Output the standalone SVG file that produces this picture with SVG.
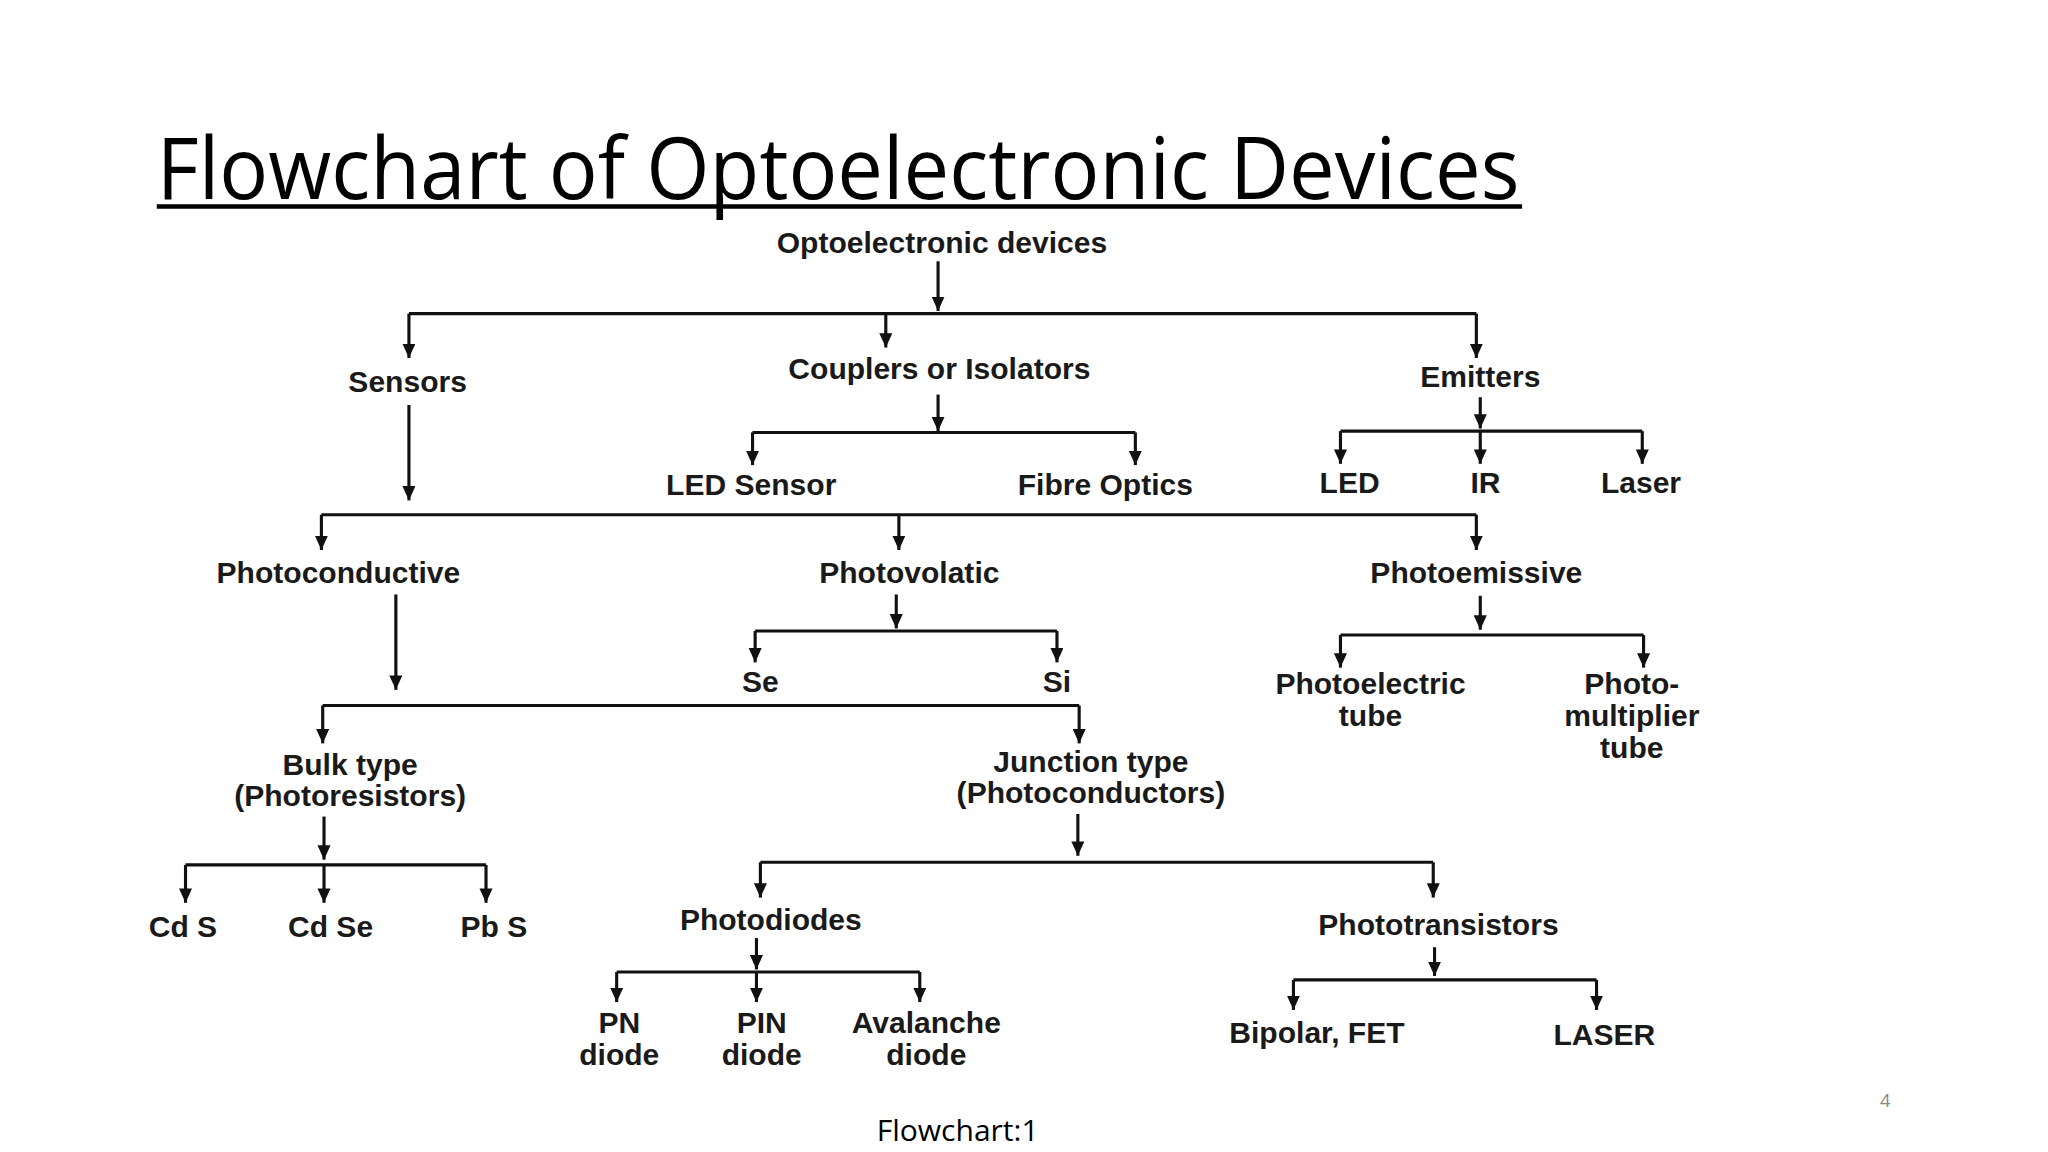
<svg xmlns="http://www.w3.org/2000/svg" width="2048" height="1152" viewBox="0 0 2048 1152">
<defs>
<marker id="ah" markerWidth="11" markerHeight="10" refX="11" refY="5" orient="auto" markerUnits="userSpaceOnUse" viewBox="0 0 11 10">
<path d="M0,0 L11,5 L0,10 Z" fill="#111"/>
</marker>
<style>
.t{font-family:"Liberation Sans",Arial,sans-serif;font-size:23px;font-weight:bold;fill:#1a1a1a;text-anchor:middle}
.c line{stroke:#111;stroke-width:2.4;fill:none}
.a{marker-end:url(#ah)}
</style>
</defs>
<rect width="2048" height="1152" fill="#fff"/>
<g transform="scale(1.3065)">
<text x="120" y="152" font-family="'Open Sans','Liberation Sans',sans-serif" font-size="66" textLength="1043" lengthAdjust="spacingAndGlyphs" fill="#000">Flowchart of Optoelectronic Devices</text>
<line x1="120" y1="158" x2="1165" y2="158" stroke="#000" stroke-width="3.5"/>
<g class="c" id="connectors">
<line class="a" x1="718" y1="200" x2="718" y2="238"/>
<line x1="313" y1="240" x2="1130" y2="240"/>
<line class="a" x1="313" y1="240" x2="313" y2="274"/>
<line class="a" x1="678" y1="240" x2="678" y2="266"/>
<line class="a" x1="1130" y1="240" x2="1130" y2="274"/>
<line class="a" x1="313" y1="310" x2="313" y2="383"/>
<line class="a" x1="718" y1="302" x2="718" y2="330"/>
<line x1="576" y1="331" x2="869" y2="331"/>
<line class="a" x1="576" y1="331" x2="576" y2="356"/>
<line class="a" x1="869" y1="331" x2="869" y2="356"/>
<line class="a" x1="1133" y1="304" x2="1133" y2="328"/>
<line x1="1026" y1="330" x2="1257" y2="330"/>
<line class="a" x1="1026" y1="330" x2="1026" y2="355"/>
<line class="a" x1="1133" y1="330" x2="1133" y2="355"/>
<line class="a" x1="1257" y1="330" x2="1257" y2="355"/>
<line x1="246" y1="394" x2="1130" y2="394"/>
<line class="a" x1="246" y1="394" x2="246" y2="421"/>
<line class="a" x1="688" y1="394" x2="688" y2="421"/>
<line class="a" x1="1130" y1="394" x2="1130" y2="421"/>
<line class="a" x1="686" y1="455" x2="686" y2="481"/>
<line x1="578" y1="483" x2="809" y2="483"/>
<line class="a" x1="578" y1="483" x2="578" y2="507"/>
<line class="a" x1="809" y1="483" x2="809" y2="507"/>
<line class="a" x1="1133" y1="456" x2="1133" y2="482"/>
<line x1="1026" y1="486" x2="1258" y2="486"/>
<line class="a" x1="1026" y1="486" x2="1026" y2="511"/>
<line class="a" x1="1258" y1="486" x2="1258" y2="511"/>
<line class="a" x1="303" y1="455" x2="303" y2="528"/>
<line x1="247" y1="540" x2="826" y2="540"/>
<line class="a" x1="247" y1="540" x2="247" y2="569"/>
<line class="a" x1="826" y1="540" x2="826" y2="569"/>
<line class="a" x1="248" y1="625" x2="248" y2="658"/>
<line x1="142" y1="662" x2="372" y2="662"/>
<line class="a" x1="142" y1="662" x2="142" y2="691"/>
<line class="a" x1="248" y1="662" x2="248" y2="691"/>
<line class="a" x1="372" y1="662" x2="372" y2="691"/>
<line class="a" x1="825" y1="623" x2="825" y2="655"/>
<line x1="582" y1="660" x2="1097" y2="660"/>
<line class="a" x1="582" y1="660" x2="582" y2="687"/>
<line class="a" x1="1097" y1="660" x2="1097" y2="687"/>
<line class="a" x1="579" y1="718" x2="579" y2="742"/>
<line x1="472" y1="744" x2="704" y2="744"/>
<line class="a" x1="472" y1="744" x2="472" y2="767"/>
<line class="a" x1="579" y1="744" x2="579" y2="767"/>
<line class="a" x1="704" y1="744" x2="704" y2="767"/>
<line class="a" x1="1098" y1="725" x2="1098" y2="747"/>
<line x1="990" y1="750" x2="1222" y2="750"/>
<line class="a" x1="990" y1="750" x2="990" y2="773"/>
<line class="a" x1="1222" y1="750" x2="1222" y2="773"/>
</g>
<g id="n-root"><text class="t" x="721" y="194">Optoelectronic devices</text></g>
<g id="n-sensors"><text class="t" x="312" y="300">Sensors</text></g>
<g id="n-couplers"><text class="t" x="719" y="290">Couplers or Isolators</text></g>
<g id="n-emitters"><text class="t" x="1133" y="296">Emitters</text></g>
<g id="n-ledsensor"><text class="t" x="575" y="379">LED Sensor</text></g>
<g id="n-fibre"><text class="t" x="846" y="379">Fibre Optics</text></g>
<g id="n-led"><text class="t" x="1033" y="377">LED</text></g>
<g id="n-ir"><text class="t" x="1137" y="377">IR</text></g>
<g id="n-laser"><text class="t" x="1256" y="377">Laser</text></g>
<g id="n-photoconductive"><text class="t" x="259" y="446">Photoconductive</text></g>
<g id="n-photovolatic"><text class="t" x="696" y="446">Photovolatic</text></g>
<g id="n-photoemissive"><text class="t" x="1130" y="446">Photoemissive</text></g>
<g id="n-se"><text class="t" x="582" y="530">Se</text></g>
<g id="n-si"><text class="t" x="809" y="530">Si</text></g>
<g id="n-photoelectric"><text class="t" x="1049" y="531">Photoelectric</text><text class="t" x="1049" y="556">tube</text></g>
<g id="n-pmt"><text class="t" x="1249" y="531">Photo-</text><text class="t" x="1249" y="556">multiplier</text><text class="t" x="1249" y="580">tube</text></g>
<g id="n-bulk"><text class="t" x="268" y="593">Bulk type</text><text class="t" x="268" y="617">(Photoresistors)</text></g>
<g id="n-junction"><text class="t" x="835" y="591">Junction type</text><text class="t" x="835" y="615">(Photoconductors)</text></g>
<g id="n-cds"><text class="t" x="140" y="717">Cd S</text></g>
<g id="n-cdse"><text class="t" x="253" y="717">Cd Se</text></g>
<g id="n-pbs"><text class="t" x="378" y="717">Pb S</text></g>
<g id="n-photodiodes"><text class="t" x="590" y="712">Photodiodes</text></g>
<g id="n-phototransistors"><text class="t" x="1101" y="716">Phototransistors</text></g>
<g id="n-pn"><text class="t" x="474" y="791">PN</text><text class="t" x="474" y="815">diode</text></g>
<g id="n-pin"><text class="t" x="583" y="791">PIN</text><text class="t" x="583" y="815">diode</text></g>
<g id="n-avalanche"><text class="t" x="709" y="791">Avalanche</text><text class="t" x="709" y="815">diode</text></g>
<g id="n-bipolar"><text class="t" x="1008" y="798">Bipolar, FET</text></g>
<g id="n-laser2"><text class="t" x="1228" y="800">LASER</text></g>
<text x="1443" y="847" font-family="'Open Sans','Liberation Sans',sans-serif" font-size="14" fill="#888" text-anchor="middle">4</text>
<text x="733" y="873" font-family="'Open Sans','Liberation Sans',sans-serif" font-size="23" fill="#000" text-anchor="middle">Flowchart:1</text>
</g>
</svg>
